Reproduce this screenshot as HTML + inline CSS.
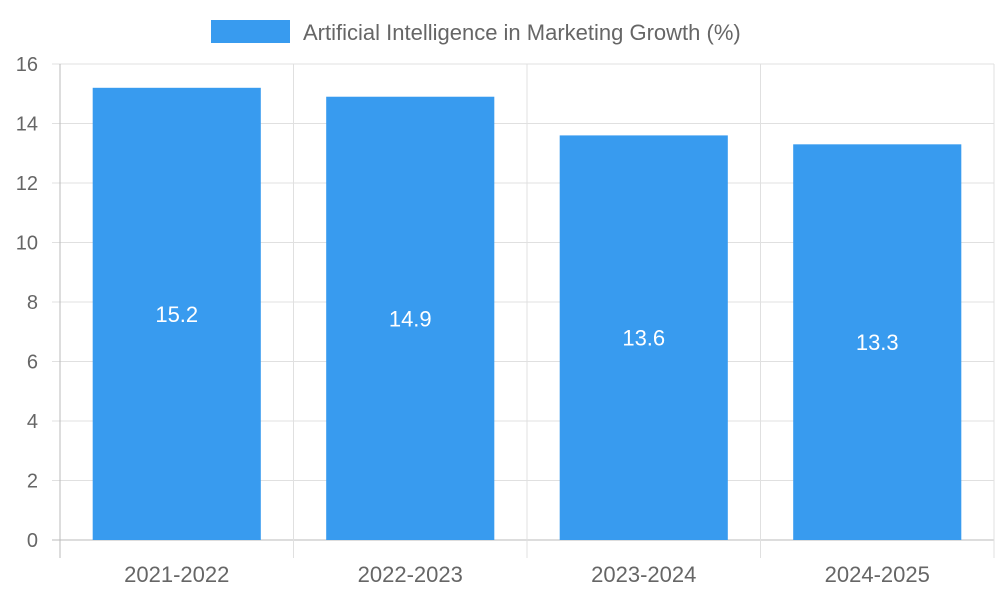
<!DOCTYPE html>
<html><head><meta charset="utf-8"><style>
body{margin:0;background:#fff;}
svg text{font-family:"Liberation Sans",sans-serif;}
</style></head><body>
<svg id="chart" width="1000" height="600" xmlns="http://www.w3.org/2000/svg">
<g id="grid"></g>
<g id="bars"></g>
<g id="axes"></g>
<g>
<rect x="211" y="20" width="79" height="23" fill="#389bef"/>
<text x="303" y="40" font-size="22" fill="#666">Artificial Intelligence in Marketing Growth (%)</text>
</g>
</svg>
<script>
const categories=["2021-2022","2022-2023","2023-2024","2024-2025"];
const values=[15.2,14.9,13.6,13.3];
const yTicks=[0,2,4,6,8,10,12,14,16];
const NS="http://www.w3.org/2000/svg";
const L=60,R=994,T=64,B=540,yMax=16;
const yS=v=>B-(B-T)*v/yMax;
const bw=(R-L)/categories.length;
const xC=i=>L+bw*(i+0.5);
function mk(tag,attrs,parent,txt){const e=document.createElementNS(NS,tag);for(const k in attrs)e.setAttribute(k,attrs[k]);if(txt!==undefined)e.textContent=txt;document.getElementById(parent).appendChild(e);return e;}
yTicks.forEach(t=>{
 const y=yS(t);
 const g=mk('line',{x1:L-8,x2:R,y1:y,y2:y,stroke:t===0?'#bbb':'#e0e0e0','stroke-width':1},'grid');
 
 
 const l=mk('text',{x:38,y:y+7,'font-size':20,fill:'#666','text-anchor':'end'},'axes',String(t));
 
 
});
for(let i=0;i<=categories.length;i++){
 const x=L+bw*i;
 const g=mk('line',{x1:x,x2:x,y1:T,y2:B+18,stroke:i===0?'#bbb':'#e0e0e0','stroke-width':1},'grid');
 
 
}
categories.forEach((c,i)=>{
 const w=bw*0.72;
 const b=mk('rect',{x:xC(i)-w/2,y:yS(values[i]),width:w,height:B-yS(values[i]),fill:'#389bef'},'bars');
 
 
 const v=mk('text',{x:xC(i),y:(yS(values[i])+B)/2+8,'font-size':22,fill:'#fff','text-anchor':'middle'},'bars',String(values[i]));
 
 
 const l=mk('text',{x:xC(i),y:582,'font-size':22,fill:'#666','text-anchor':'middle'},'axes',c);
 
 
});
</script>
</body></html>
